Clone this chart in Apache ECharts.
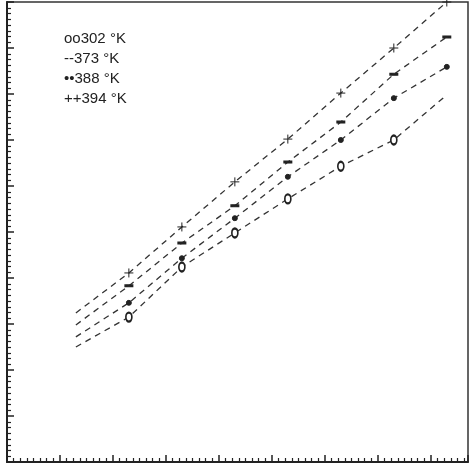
<!DOCTYPE html><html><head><meta charset="utf-8"><script src="https://cdn.jsdelivr.net/npm/echarts@6/dist/echarts.min.js"></script>
<style>html,body{margin:0;background:#fff}#c{width:474px;height:467px}</style></head><body><div id="c"></div><script>
const xs=[0,1,2,3,4,5,6,7];
const names=['302 °K','373 °K','388 °K','394 °K'];
const legendLabels=['oo302 °K','--373 °K','••388 °K','++394 °K'];
const s302=[2.5,3.15,4.24,4.98,5.72,6.43,7.0,7.98];
const s373=[2.98,3.83,4.76,5.57,6.52,7.39,8.43,9.24];
const s388=[2.72,3.46,4.43,5.3,6.2,7.0,7.91,8.59];
const s394=[3.24,4.11,5.11,6.09,7.02,8.02,9.0,10.0];
const symbols=['emptyCircle','path://M0,0L10,0L10,3L0,3Z','circle','path://M0,5L10,5M5,0L5,10'];
const sizes=[[6,9],[6,2],[5,5],[9,9]];
const data=[s302,s373,s388,s394];
const ax={axisLine:{show:true,onZero:false,lineStyle:{color:'#222',width:2}},axisTick:{show:true,inside:true,length:7,lineStyle:{color:'#222',width:1.5}},minorTick:{show:true,splitNumber:8,length:4,lineStyle:{color:'#222',width:1.2}},axisLabel:{show:false},splitLine:{show:false}};
const chart=echarts.init(document.getElementById('c'));
chart.setOption({animation:false,
grid:{left:7,right:6,top:2,bottom:5,show:true,borderColor:'#333',borderWidth:1.5},
xAxis:Object.assign({type:'value',min:-1.3,max:7.4,interval:1},ax),
yAxis:Object.assign({type:'value',min:0,max:10,interval:1},ax),
graphic:legendLabels.map((t,i)=>({type:'text',left:64,top:31+i*20,style:{text:t,font:'15px "Liberation Sans"',fill:'#222'}})),
series:data.map((d,i)=>({name:names[i],type:'line',data:xs.map((x,j)=>({value:[x,d[j]],symbol:(j==0||(j==7&&i<1))?'none':symbols[i]})),symbolSize:sizes[i],
 itemStyle:{color:'#222',borderColor:'#222'},lineStyle:{color:'#333',width:1.3,type:[6,5]}}))
});
</script></body></html>
